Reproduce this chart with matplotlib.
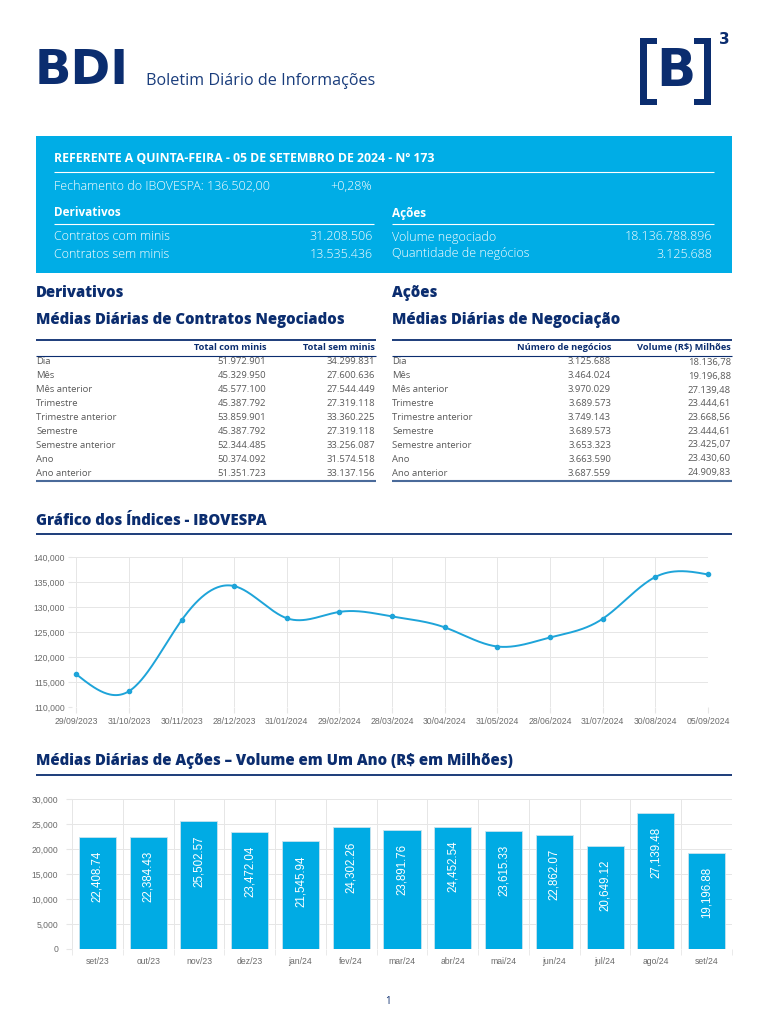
import numpy as np
import matplotlib
matplotlib.use('Agg')
from matplotlib import pyplot as plt, ticker
from matplotlib.lines import Line2D
from matplotlib.patches import Rectangle

W, H = 768, 1024
NAVY = '#0b2d6f'
CYAN = '#00ade6'
BAR = '#00abe4'
LINE = '#1ea4d9'
GRAY = '#5a5a5a'
TICK = '#6b6b6b'
GRID = '#e6e6e6'
HEAD = ['Open Sans', 'DejaVu Sans']
BODY = ['Open Sans', 'DejaVu Sans']
LOGO = ['DejaVu Sans']
AXF = ['Liberation Sans', 'DejaVu Sans']

# ---- data ----
report_title = 'REFERENTE A QUINTA-FEIRA - 05 DE SETEMBRO DE 2024 - Nº 173'
ibov_close = 'Fechamento do IBOVESPA: 136.502,00'
ibov_change = '+0,28%'
deriv_summary = [('Contratos com minis', '31.208.506'), ('Contratos sem minis', '13.535.436')]
acoes_summary = [('Volume negociado', '18.136.788.896'), ('Quantidade de negócios', '3.125.688')]

row_labels = ['Dia', 'Mês', 'Mês anterior', 'Trimestre', 'Trimestre anterior',
              'Semestre', 'Semestre anterior', 'Ano', 'Ano anterior']
deriv_cols = ['Total com minis', 'Total sem minis']
deriv_com = ['51.972.901', '45.329.950', '45.577.100', '45.387.792', '53.859.901',
             '45.387.792', '52.344.485', '50.374.092', '51.351.723']
deriv_sem = ['34.299.831', '27.600.636', '27.544.449', '27.319.118', '33.360.225',
             '27.319.118', '33.256.087', '31.574.518', '33.137.156']
acoes_cols = ['Número de negócios', 'Volume (R$) Milhões']
acoes_neg = ['3.125.688', '3.464.024', '3.970.029', '3.689.573', '3.749.143',
             '3.689.573', '3.653.323', '3.663.590', '3.687.559']
acoes_vol = ['18.136,78', '19.196,88', '27.139,48', '23.444,61', '23.668,56',
             '23.444,61', '23.425,07', '23.430,60', '24.909,83']

ibov_dates = ['29/09/2023', '31/10/2023', '30/11/2023', '28/12/2023', '31/01/2024',
              '29/02/2024', '28/03/2024', '30/04/2024', '31/05/2024', '28/06/2024',
              '31/07/2024', '30/08/2024', '05/09/2024']
ibov_values = [116565, 113144, 127331, 134185, 127752, 129020, 128106,
               125924, 122098, 123907, 127652, 136004, 136502]

vol_months = ['set/23', 'out/23', 'nov/23', 'dez/23', 'jan/24', 'fev/24', 'mar/24',
              'abr/24', 'mai/24', 'jun/24', 'jul/24', 'ago/24', 'set/24']
vol_values = [22408.74, 22384.43, 25502.57, 23472.04, 21545.94, 24302.26, 23891.76,
              24452.54, 23615.33, 22862.07, 20649.12, 27139.48, 19196.88]


def fx(x):
    return x / W


def fy(y):
    return 1 - y / H


def put(x, y, s, **kw):
    kw.setdefault('va', 'center')
    fig.text(fx(x), fy(y), s, **kw)


def hline(x0, x1, y, color, lw):
    fig.add_artist(Line2D([fx(x0), fx(x1)], [fy(y), fy(y)], transform=fig.transFigure,
                          color=color, linewidth=lw, solid_capstyle='butt'))


def rect(x0, y0, x1, y1, color):
    fig.add_artist(Rectangle((fx(x0), fy(y1)), fx(x1) - fx(x0), (y1 - y0) / H,
                             transform=fig.transFigure, color=color, linewidth=0))


def axes_px(left, top, right, bottom):
    return fig.add_axes([fx(left), fy(bottom), (right - left) / W, (bottom - top) / H])


def smooth(xs, ys, num=600):
    # natural cubic spline through the points, only for drawing the curve
    xs = np.asarray(xs, float)
    ys = np.asarray(ys, float)
    n = len(xs)
    h = np.diff(xs)
    A = np.zeros((n, n))
    b = np.zeros(n)
    A[0, 0] = A[-1, -1] = 1
    for i in range(1, n - 1):
        A[i, i - 1] = h[i - 1]
        A[i, i] = 2 * (h[i - 1] + h[i])
        A[i, i + 1] = h[i]
        b[i] = 6 * ((ys[i + 1] - ys[i]) / h[i] - (ys[i] - ys[i - 1]) / h[i - 1])
    M = np.linalg.solve(A, b)
    xx = np.linspace(xs[0], xs[-1], num)
    k = np.clip(np.searchsorted(xs, xx) - 1, 0, n - 2)
    t0, t1, hk = xx - xs[k], xs[k + 1] - xx, h[k]
    yy = (M[k] * t1 ** 3 + M[k + 1] * t0 ** 3) / (6 * hk) \
        + (ys[k] / hk - M[k] * hk / 6) * t1 + (ys[k + 1] / hk - M[k + 1] * hk / 6) * t0
    return xx, yy


fig = plt.figure(figsize=(W / 100, H / 100), dpi=100)

# ---- header ----
put(35, 70, 'BDI', fontsize=34.5, fontweight='bold', color=NAVY, family=LOGO)
put(146, 81, 'Boletim Diário de Informações', fontsize=11.6, color='#1a3d7c', family=BODY)
# B3 logo
rect(640, 38, 647, 105, NAVY)
rect(640, 38, 657, 44, NAVY)
rect(640, 99, 657, 105, NAVY)
rect(704, 38, 711, 105, NAVY)
rect(694, 38, 711, 44, NAVY)
rect(694, 99, 711, 105, NAVY)
put(676, 72, 'B', fontsize=37, fontweight='bold', color=NAVY, family=LOGO, ha='center')
put(724, 40, '3', fontsize=11, fontweight='bold', color=NAVY, family=LOGO, ha='center')

# ---- blue summary box ----
LIGHT = dict(fontsize=9, fontweight='light', color='white', family=BODY)
rect(36, 136, 732, 273, CYAN)
put(54, 158, report_title, fontsize=8.8, fontweight='bold', color='white', family=HEAD)
hline(54, 714, 172, 'white', 0.8)
put(54, 186, ibov_close, **LIGHT)
put(372, 186, ibov_change, ha='right', **LIGHT)
put(54, 213, 'Derivativos', fontsize=8.5, fontweight='bold', color='white', family=HEAD)
put(392, 213, 'Ações', fontsize=8.5, fontweight='bold', color='white', family=HEAD)
hline(54, 374, 224, 'white', 0.8)
hline(392, 714, 224, 'white', 0.8)
for i, (lab, val) in enumerate(deriv_summary):
    put(54, 237 + 17 * i, lab, **LIGHT)
    put(373, 237 + 17 * i, val, ha='right', **LIGHT)
for i, (lab, val) in enumerate(acoes_summary):
    put(392, 237 + 17 * i, lab, **LIGHT)
    put(712, 237 + 17 * i, val, ha='right', **LIGHT)

# ---- tables ----
TITLE = dict(fontsize=10.7, fontweight='heavy', color=NAVY, family=HEAD)
put(36, 293, 'Derivativos', **TITLE)
put(392, 293, 'Ações', **TITLE)
put(36, 320, 'Médias Diárias de Contratos Negociados', **TITLE)
put(392, 320, 'Médias Diárias de Negociação', **TITLE)

row_y = [362, 376, 390, 403.5, 417.5, 431.5, 445, 459, 473]
CELL = dict(fontsize=6.8, color=GRAY, family=BODY)


def draw_table(x0, x1, col_x, cols, c1, c2):
    hline(x0, x1, 340, NAVY, 1.3)
    hline(x0, x1, 356, NAVY, 0.8)
    hline(x0, x1, 481, '#4a6a9a', 1.5)
    for cx, name in zip(col_x, cols):
        put(cx, 347.5, name, fontsize=6.7, fontweight='bold', color=NAVY, family=HEAD, ha='right')
    for y, lab, a, b in zip(row_y, row_labels, c1, c2):
        put(x0, y, lab, **CELL)
        put(col_x[0], y, a, ha='right', **CELL)
        put(col_x[1], y, b, ha='right', **CELL)


draw_table(36, 376, [266, 375], deriv_cols, deriv_com, deriv_sem)
draw_table(392, 732, [611, 731], acoes_cols, acoes_neg, acoes_vol)

# ---- IBOVESPA line chart ----
put(36, 521, 'Gráfico dos Índices - IBOVESPA', **TITLE)
hline(36, 732, 534, NAVY, 1.3)

ax1 = axes_px(72, 557, 708, 707)
xi = np.arange(len(ibov_values))
xs, ys = smooth(xi, ibov_values)
ax1.plot(xs, ys, color=LINE, linewidth=1.4, clip_on=False, zorder=3)
ax1.plot(xi, ibov_values, 'o', color=LINE, ms=3, clip_on=False, zorder=4)
ax1.set_xlim(-0.08, len(xi) - 1)
ax1.set_ylim(110000, 140000)
ax1.set_xticks(xi)
ax1.set_xticklabels(ibov_dates)
ax1.set_yticks(np.arange(110000, 140001, 5000))
ax1.yaxis.set_major_formatter(ticker.StrMethodFormatter('{x:,.0f}'))

# ---- monthly volume bar chart ----
put(36, 761, 'Médias Diárias de Ações – Volume em Um Ano (R$ em Milhões)', **TITLE)
hline(36, 732, 775, NAVY, 1.3)

ax2 = axes_px(72, 799, 732, 949)
xb = np.arange(len(vol_values))
ax2.bar(xb, vol_values, width=0.73, color=BAR, edgecolor='#c9e3ee', linewidth=0.6, zorder=3)
for x, v in zip(xb, vol_values):
    ax2.annotate(f'{v:,.2f}', (x, v), xytext=(0, -10), textcoords='offset points',
                 rotation=90, ha='center', va='top', color='white', fontsize=8.3,
                 family=AXF, zorder=4)
ax2.set_xlim(-0.5, len(xb) - 0.5)
ax2.set_ylim(0, 30000)
ax2.set_xticks(xb)
ax2.set_xticklabels(vol_months)
ax2.set_xticks(np.arange(-0.5, len(xb)), minor=True)
ax2.set_yticks(np.arange(0, 30001, 5000))
ax2.yaxis.set_major_formatter(ticker.StrMethodFormatter('{x:,.0f}'))

for ax in (ax1, ax2):
    for s in ax.spines.values():
        s.set_visible(False)
    ax.set_facecolor('white')
    ax.tick_params(axis='both', labelsize=6.2, labelcolor=TICK, color=GRID, length=4)
    for lab in ax.get_xticklabels() + ax.get_yticklabels():
        lab.set_family(AXF)
    ax.set_axisbelow(True)
    ax.grid(color=GRID, linewidth=0.7)

ax2.grid(False)
ax2.grid(axis='y', color=GRID, linewidth=0.7)
ax2.grid(axis='x', which='minor', color=GRID, linewidth=0.7)
ax2.tick_params(axis='x', which='major', length=0, pad=6)
ax2.tick_params(axis='x', which='minor', length=4, color=GRID)
ax2.tick_params(axis='y', pad=6)
ax1.tick_params(axis='y', length=3, pad=2)

# page number
put(388, 1002, '1', fontsize=7, color=NAVY, family=BODY, ha='center')

fig.savefig('out.png', dpi=100)
